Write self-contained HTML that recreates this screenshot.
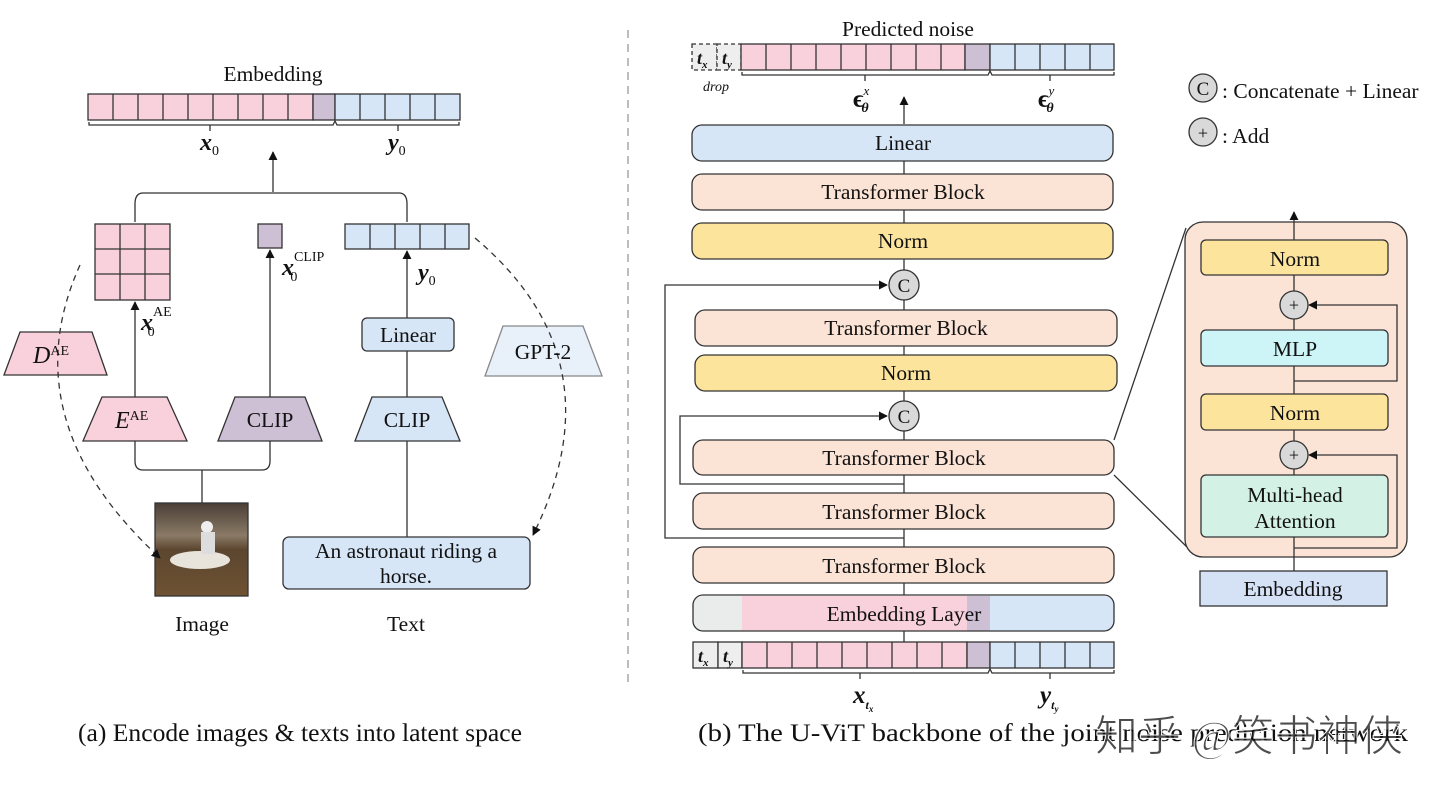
<!DOCTYPE html>
<html><head><meta charset="utf-8"><style>
html,body{margin:0;padding:0;background:#fff;width:1440px;height:788px;overflow:hidden}
svg{display:block}
text{font-family:"Liberation Serif",serif;fill:#111}
</style></head><body>
<svg width="1440" height="788" viewBox="0 0 1440 788" xmlns="http://www.w3.org/2000/svg">
<defs>
<marker id="a" viewBox="0 0 10 10" refX="9" refY="5" markerWidth="7" markerHeight="7" orient="auto"><path d="M0,0L10,5L0,10z" fill="#111"/></marker>
<linearGradient id="img" x1="0" y1="0" x2="0" y2="1"><stop offset="0" stop-color="#4a3e36"/><stop offset="0.35" stop-color="#8a7a66"/><stop offset="0.5" stop-color="#5c4630"/><stop offset="1" stop-color="#6e5232"/></linearGradient>
</defs>
<g stroke="#333" stroke-width="1.3">
<rect x="88" y="94" width="225" height="26" fill="#f9d1dc"/>
<rect x="313" y="94" width="22" height="26" fill="#cdbfd4"/>
<rect x="335" y="94" width="125" height="26" fill="#d7e6f7"/>
<path d="M113 94v26M138 94v26M163 94v26M188 94v26M213 94v26M238 94v26M263 94v26M288 94v26M360 94v26M385 94v26M410 94v26M435 94v26"/>
<path d="M89 122v3h244l2 -4 2 4h122v-3M210 125v6M398 125v6" fill="none"/>
<path d="M273 192V152" marker-end="url(#a)"/>
<path d="M135 222v-18q0-11 8-11h256q8 0 8 11v18" fill="none"/>
<rect x="95" y="224" width="75" height="76" fill="#f9d1dc"/>
<path d="M120 224v76M145 224v76M95 249h75M95 274h75"/>
<rect x="258" y="224" width="24" height="24" fill="#cdbfd4"/>
<rect x="345" y="224" width="124" height="25" fill="#d7e6f7"/>
<path d="M370 224v25M395 224v25M420 224v25M445 224v25"/>
<path d="M135 397V302" marker-end="url(#a)"/>
<path d="M270 397V250" marker-end="url(#a)"/>
<path d="M407 318V251" marker-end="url(#a)"/>
<path d="M407 351v46M407 441v96"/>
<rect x="362" y="318" width="92" height="33" rx="5" fill="#d7e6f7"/>
<path d="M102 397h65l20 44H83z" fill="#f9d1dc"/>
<path d="M235 397h70l17 44H218z" fill="#cdbfd4"/>
<path d="M372 397h70l18 44H355z" fill="#d7e6f7"/>
<path d="M20 332h72l15 43H4z" fill="#f9d1dc"/>
<path d="M503 326h80l19 50H485z" fill="#e8f0fa" stroke="#888"/>
<path d="M135 441v20q0 9 8 9h119q8 0 8-9v-20M202 470v33" fill="none"/>
<rect x="155" y="503" width="93" height="93" fill="url(#img)"/>
<rect x="283" y="537" width="247" height="52" rx="6" fill="#d7e6f7"/>
<path d="M80 265Q10 420 160 558" fill="none" stroke-dasharray="6,5" marker-end="url(#a)"/>
<path d="M475 238Q620 360 533 535" fill="none" stroke-dasharray="6,5" marker-end="url(#a)"/>
<path d="M628 30V685" stroke="#999" stroke-dasharray="8,6"/>
<rect x="692" y="44" width="25" height="26" fill="#eee" stroke-dasharray="4,3"/>
<rect x="717" y="44" width="24" height="26" fill="#eee" stroke-dasharray="4,3"/>
<rect x="741" y="44" width="224" height="26" fill="#f9d1dc"/>
<rect x="965" y="44" width="25" height="26" fill="#cdbfd4"/>
<rect x="990" y="44" width="124" height="26" fill="#d7e6f7"/>
<path d="M766 44v26M791 44v26M816 44v26M841 44v26M866 44v26M891 44v26M916 44v26M941 44v26M1015 44v26M1040 44v26M1065 44v26M1090 44v26"/>
<path d="M742 72v3h246l2-4 2 4h122v-3M865 75v6M1050 75v6" fill="none"/>
<path d="M904 124V97" marker-end="url(#a)"/>
<path d="M904 161v13M904 210v13M904 259v11M904 300v10M904 346v9M904 391v10M904 431v9M904 475v18M904 529v18M904 583v12M904 631v11"/>
<path d="M904 538H665V285h222" fill="none" marker-end="url(#a)"/>
<path d="M904 484H680V416h207" fill="none" marker-end="url(#a)"/>
<rect x="692" y="125" width="421" height="36" rx="10" fill="#d7e6f7"/>
<rect x="692" y="174" width="421" height="36" rx="10" fill="#fbe3d6"/>
<rect x="692" y="223" width="421" height="36" rx="10" fill="#fce49c"/>
<circle cx="904" cy="285" r="15" fill="#d9d9d9"/>
<rect x="695" y="310" width="422" height="36" rx="10" fill="#fbe3d6"/>
<rect x="695" y="355" width="422" height="36" rx="10" fill="#fce49c"/>
<circle cx="904" cy="416" r="15" fill="#d9d9d9"/>
<rect x="693" y="440" width="421" height="35" rx="10" fill="#fbe3d6"/>
<rect x="693" y="493" width="421" height="36" rx="10" fill="#fbe3d6"/>
<rect x="693" y="547" width="421" height="36" rx="10" fill="#fbe3d6"/>
<rect x="742" y="596" width="225" height="35" fill="#f9d1dc" stroke="none"/>
<rect x="967" y="596" width="23" height="35" fill="#cdbfd4" stroke="none"/>
<path d="M990 596h114a10 10 0 0 1 10 10v15a10 10 0 0 1-10 10H990z" fill="#d7e6f7" stroke="none"/>
<path d="M742 596h-39a10 10 0 0 0-10 10v15a10 10 0 0 0 10 10h39z" fill="#e9ecea" stroke="none"/>
<rect x="693" y="595" width="421" height="36" rx="10" fill="none"/>
<rect x="693" y="642" width="25" height="26" fill="#eee"/>
<rect x="718" y="642" width="24" height="26" fill="#eee"/>
<rect x="742" y="642" width="225" height="26" fill="#f9d1dc"/>
<rect x="967" y="642" width="23" height="26" fill="#cdbfd4"/>
<rect x="990" y="642" width="124" height="26" fill="#d7e6f7"/>
<path d="M767 642v26M792 642v26M817 642v26M842 642v26M867 642v26M892 642v26M917 642v26M942 642v26M1015 642v26M1040 642v26M1065 642v26M1090 642v26"/>
<path d="M743 670v3h245l2-4 2 4h122v-3M860 673v6M1050 673v6" fill="none"/>
<circle cx="1203" cy="88" r="14" fill="#d9d9d9"/>
<circle cx="1203" cy="132" r="14" fill="#d9d9d9"/>
<path d="M1114 440L1186 228M1114 475L1190 550" fill="none"/>
<rect x="1185" y="222" width="222" height="335" rx="18" fill="#fbe3d6"/>
<path d="M1294 571V212" marker-end="url(#a)"/>
<path d="M1294 548h103V455h-88" fill="none" marker-end="url(#a)"/>
<path d="M1294 381h103V305h-88" fill="none" marker-end="url(#a)"/>
<rect x="1201" y="240" width="187" height="35" rx="5" fill="#fce49c"/>
<circle cx="1294" cy="305" r="14" fill="#d9d9d9"/>
<rect x="1201" y="330" width="187" height="36" rx="5" fill="#cdf4f6"/>
<rect x="1201" y="394" width="187" height="36" rx="5" fill="#fce49c"/>
<circle cx="1294" cy="455" r="14" fill="#d9d9d9"/>
<rect x="1201" y="475" width="187" height="62" rx="5" fill="#d3f2e5"/>
<rect x="1200" y="571" width="187" height="35" fill="#d5e1f5"/>
</g>
<ellipse cx="200" cy="560" rx="30" ry="9" fill="#e8e4dc"/>
<circle cx="207" cy="527" r="6" fill="#eee"/>
<rect x="201" y="532" width="14" height="22" fill="#ddd"/>
<g font-size="21.5">
<text x="273" y="81" text-anchor="middle">Embedding</text>
<text x="200" y="150" font-weight="bold" font-style="italic" font-size="24">x<tspan font-size="14" font-style="normal" font-weight="normal" dy="5">0</tspan></text>
<text x="388" y="150" font-weight="bold" font-style="italic" font-size="24">y<tspan font-size="14" font-style="normal" font-weight="normal" dy="5">0</tspan></text>
<text x="141" y="330" font-weight="bold" font-style="italic" font-size="24">x<tspan font-size="14" font-style="normal" font-weight="normal" dy="-14">AE</tspan><tspan font-size="14" font-style="normal" font-weight="normal" dx="-24" dy="20">0</tspan></text>
<text x="282" y="275" font-weight="bold" font-style="italic" font-size="24">x<tspan font-size="14" font-style="normal" font-weight="normal" dy="-14">CLIP</tspan><tspan font-size="14" font-style="normal" font-weight="normal" dx="-34" dy="20">0</tspan></text>
<text x="418" y="280" font-weight="bold" font-style="italic" font-size="24">y<tspan font-size="14" font-style="normal" font-weight="normal" dy="5">0</tspan></text>
<text x="408" y="342" text-anchor="middle">Linear</text>
<text x="33" y="363" font-style="italic" font-size="24">D<tspan font-size="14" font-style="normal" dy="-8">AE</tspan></text>
<text x="543" y="359" text-anchor="middle">GPT-2</text>
<text x="115" y="428" font-style="italic" font-size="24">E<tspan font-size="14" font-style="normal" dy="-8">AE</tspan></text>
<text x="270" y="427" text-anchor="middle">CLIP</text>
<text x="407" y="427" text-anchor="middle">CLIP</text>
<text x="406" y="558" text-anchor="middle">An astronaut riding a</text>
<text x="406" y="583" text-anchor="middle">horse.</text>
<text x="202" y="631" text-anchor="middle">Image</text>
<text x="406" y="631" text-anchor="middle">Text</text>
<text x="78" y="741" font-size="25" textLength="444" lengthAdjust="spacingAndGlyphs">(a) Encode images &amp; texts into latent space</text>
<text x="908" y="36" text-anchor="middle">Predicted noise</text>
<text x="697" y="64" font-style="italic" font-weight="bold" font-size="18">t<tspan font-size="11" dy="4">x</tspan></text>
<text x="722" y="64" font-style="italic" font-weight="bold" font-size="18">t<tspan font-size="11" dy="4">y</tspan></text>
<text x="716" y="91" text-anchor="middle" font-style="italic" font-size="14">drop</text>
<text x="853" y="107" font-weight="bold" font-size="25">ϵ<tspan font-size="13" font-style="italic" font-weight="normal" dy="-12">x</tspan><tspan font-size="14" font-style="italic" dx="-8" dy="17">θ</tspan></text>
<text x="1038" y="107" font-weight="bold" font-size="25">ϵ<tspan font-size="13" font-style="italic" font-weight="normal" dy="-12">y</tspan><tspan font-size="14" font-style="italic" dx="-8" dy="17">θ</tspan></text>
<text x="903" y="150" text-anchor="middle">Linear</text>
<text x="903" y="199" text-anchor="middle">Transformer Block</text>
<text x="903" y="248" text-anchor="middle">Norm</text>
<text x="904" y="292" text-anchor="middle" font-size="19">C</text>
<text x="906" y="335" text-anchor="middle">Transformer Block</text>
<text x="906" y="380" text-anchor="middle">Norm</text>
<text x="904" y="423" text-anchor="middle" font-size="19">C</text>
<text x="904" y="465" text-anchor="middle">Transformer Block</text>
<text x="904" y="519" text-anchor="middle">Transformer Block</text>
<text x="904" y="573" text-anchor="middle">Transformer Block</text>
<text x="904" y="621" text-anchor="middle">Embedding Layer</text>
<text x="698" y="662" font-style="italic" font-weight="bold" font-size="18">t<tspan font-size="11" dy="4">x</tspan></text>
<text x="723" y="662" font-style="italic" font-weight="bold" font-size="18">t<tspan font-size="11" dy="4">y</tspan></text>
<text x="853" y="703" font-weight="bold" font-style="italic" font-size="25">x<tspan font-size="12" dy="6">t<tspan font-size="9" dy="3">x</tspan></tspan></text>
<text x="1040" y="703" font-weight="bold" font-style="italic" font-size="25">y<tspan font-size="12" dy="6">t<tspan font-size="9" dy="3">y</tspan></tspan></text>
<text x="1203" y="95" text-anchor="middle" font-size="19">C</text>
<text x="1203" y="139" text-anchor="middle" font-size="18">+</text>
<text x="1222" y="98">: Concatenate + Linear</text>
<text x="1222" y="143">: Add</text>
<text x="1295" y="266" text-anchor="middle">Norm</text>
<text x="1294" y="311" text-anchor="middle" font-size="18">+</text>
<text x="1295" y="356" text-anchor="middle">MLP</text>
<text x="1295" y="420" text-anchor="middle">Norm</text>
<text x="1294" y="461" text-anchor="middle" font-size="18">+</text>
<text x="1295" y="502" text-anchor="middle">Multi-head</text>
<text x="1295" y="528" text-anchor="middle">Attention</text>
<text x="1293" y="596" text-anchor="middle">Embedding</text>
<text x="698" y="741" font-size="25" textLength="710" lengthAdjust="spacingAndGlyphs">(b) The U-ViT backbone of the joint noise prediction network</text>
</g>
<text x="1095" y="751" font-family="'Noto Sans CJK SC',sans-serif" font-size="43" fill="#d4d4d4" fill-opacity="0.75" stroke="#fff" stroke-width="1">知乎 @笑书神侠</text>
</svg>
</body></html>
